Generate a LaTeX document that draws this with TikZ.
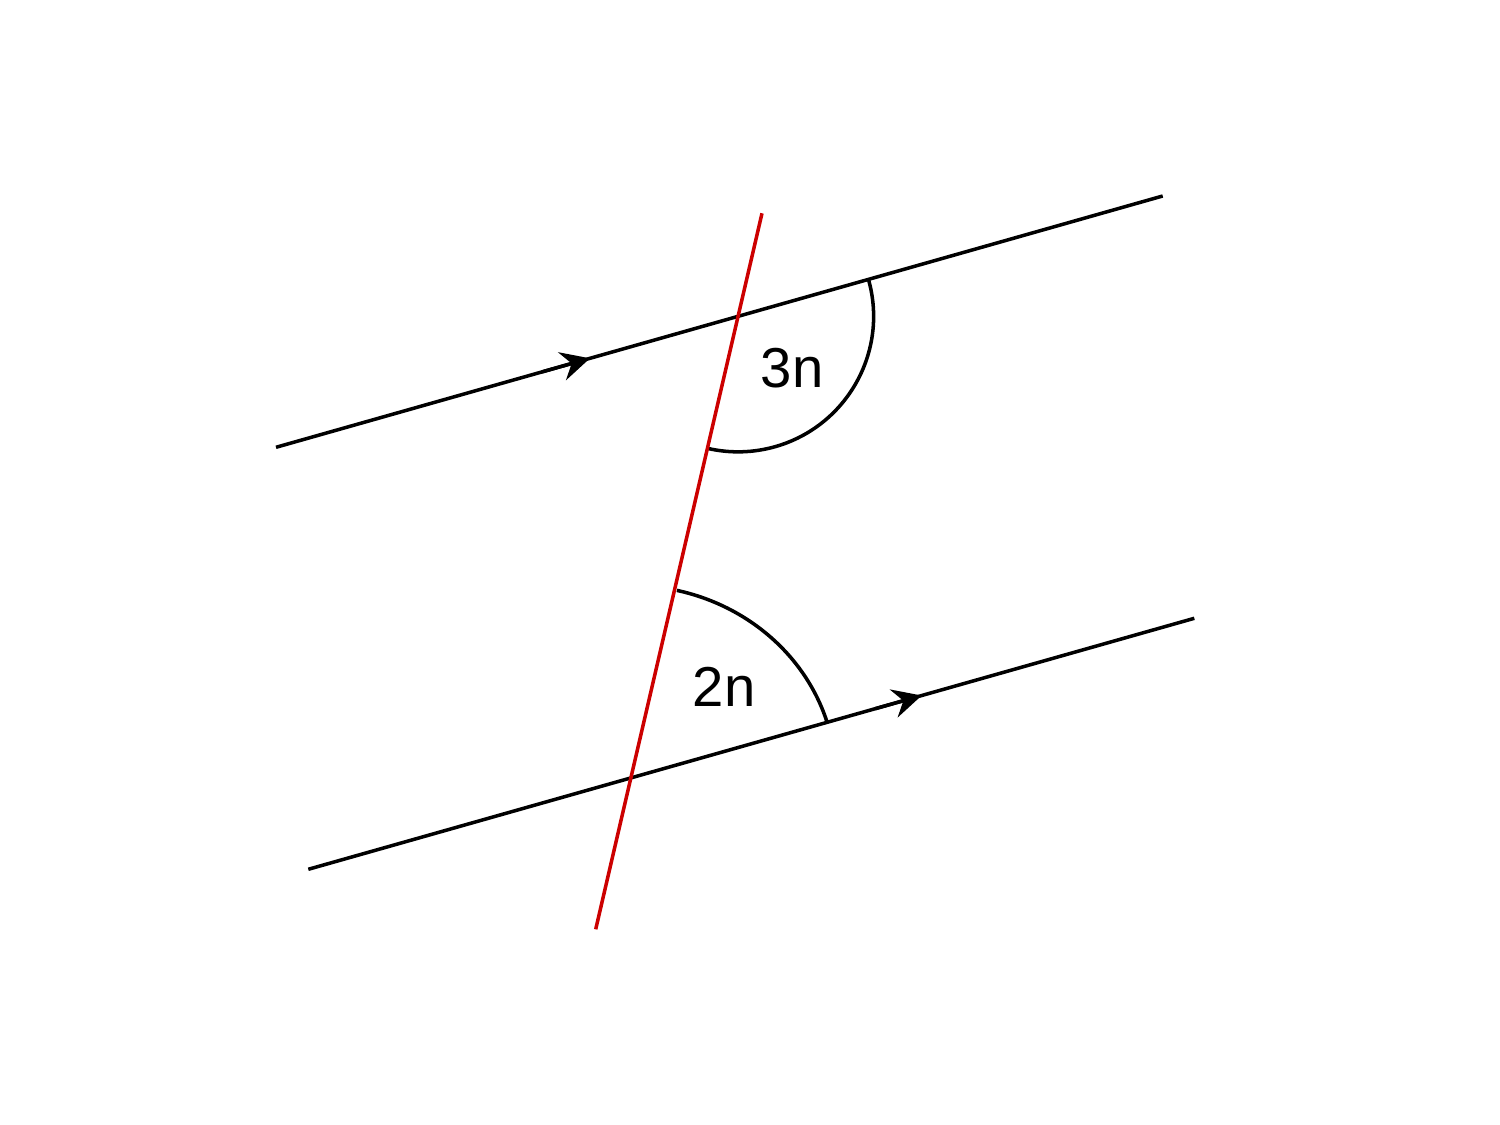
\documentclass[tikz,border=0pt]{standalone}
\usepackage{fontspec}
\setmainfont{Liberation Sans}
\usetikzlibrary{arrows.meta,calc}
\definecolor{redline}{RGB}{204,0,0}
\begin{document}
\begin{tikzpicture}[x=0.01cm,y=-0.01cm,
  blackline/.style={draw=black,line width=1pt},
  transversal/.style={draw=redline,line width=1pt},
  arrowmark/.style={draw=black,line width=1pt,-{Stealth[length=0.29cm,width=0.29cm,inset=0.1cm]}},
  anglearc/.style={draw=black,line width=1pt},
  anglelabel/.style={font=\fontsize{16}{19}\selectfont,inner sep=0pt}]
\useasboundingbox (0,0) rectangle (1500,1125);
% end points
\coordinate (TL) at (276,447.3);
\coordinate (TR) at (1162.7,196);
\coordinate (BL) at (308.3,869.3);
\coordinate (BR) at (1194.3,618.3);
\coordinate (RT) at (762,213.3);
\coordinate (RB) at (595.7,929.3);
% intersections
\coordinate (P) at (intersection of TL--TR and RT--RB);
\coordinate (Q) at (intersection of BL--BR and RT--RB);
% parallel lines
\draw[blackline] (TL) -- (TR);
\draw[blackline] (BL) -- (BR);
% arrows
\coordinate (ta) at ($(TL)!0.3541!(TR)$);
\coordinate (tb) at ($(TL)!0.30!(TR)$);
\draw[arrowmark] (tb) -- (ta);
\coordinate (ba) at ($(BL)!0.6923!(BR)$);
\coordinate (bb) at ($(BL)!0.64!(BR)$);
\draw[arrowmark] (bb) -- (ba);
% angle arcs
\draw[anglearc] (P) ++(-15.8:135.5) arc[start angle=-15.8,end angle=103.07,radius=135.5];
\draw[anglearc] ($(Q)+(205.1*0.2243,-192.5*0.9745)$) arc[start angle=77.0,end angle=17.1,x radius=205.1,y radius=-192.5];
% transversal
\draw[transversal] (RT) -- (RB);
% labels
\node[anglelabel] (l3) at (792,368) {3n};
\node[anglelabel] (l2) at (724,687) {2n};
\end{tikzpicture}
\end{document}
